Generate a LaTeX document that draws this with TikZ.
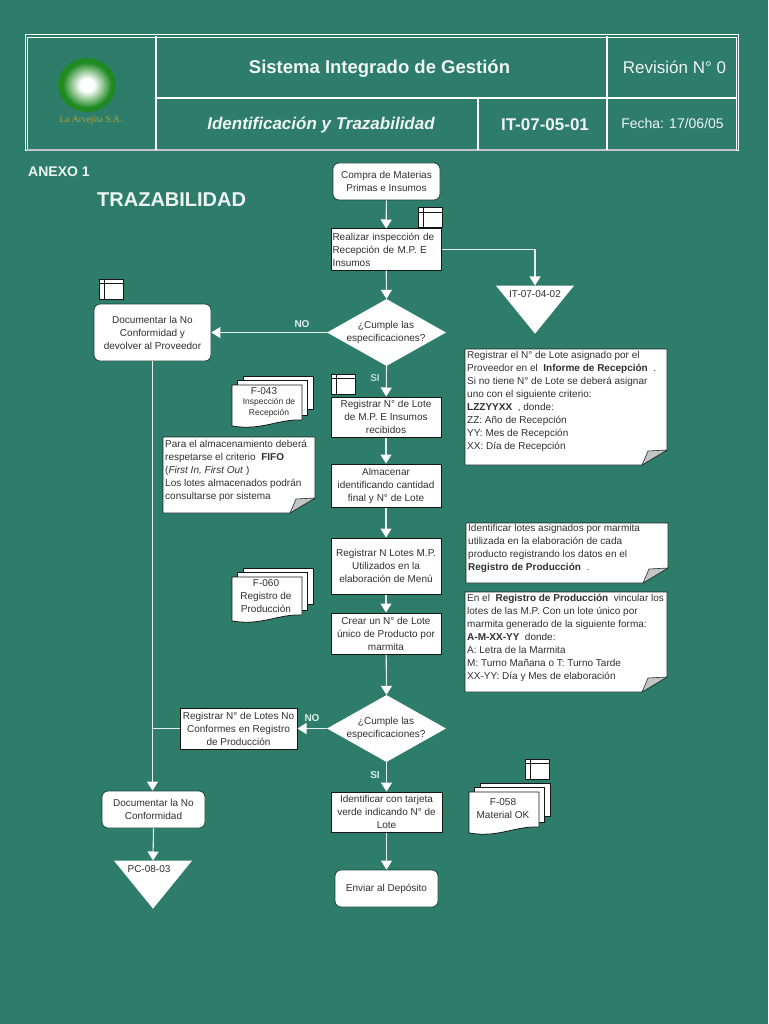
\documentclass[tikz,border=0pt]{standalone}
\usepackage{fontspec}
\setmainfont{Liberation Sans}
\newfontfamily\logofont{Liberation Serif}
\usetikzlibrary{shapes.geometric,arrows.meta,calc}
\definecolor{bgc}{HTML}{2E7D6B}
\definecolor{txt}{HTML}{303030}
\definecolor{edgec}{HTML}{151515}
\definecolor{linkc}{HTML}{E4EFEB}
\definecolor{logog}{HTML}{1F8A22}
\definecolor{logot}{HTML}{B5A13A}
\definecolor{foldc}{HTML}{C4C4C4}
\definecolor{lblno}{HTML}{DCEFE8}
\definecolor{lblsi}{HTML}{B5DDCF}
\pgfdeclareradialshading{logoshade}{\pgfpoint{0bp}{0bp}}{color(0bp)=(white);color(6bp)=(white);color(21bp)=(logog);color(50bp)=(logog)}
\tikzset{
  body/.style={font=\fontsize{10}{13}\selectfont,text=txt},
  procbox/.style={body,draw=edgec,fill=white,line width=1pt,inner sep=0pt,align=center,minimum width=#1},
  termbox/.style={body,draw=bgc!55!black,fill=white,line width=.8pt,rounded corners=6pt,inner sep=0pt,align=center,minimum width=#1},
  decision/.style={diamond,draw=none,fill=white,inner sep=0pt,minimum width=119pt,minimum height=67pt,aspect=1.78},
  mergetri/.style={isosceles triangle,isosceles triangle apex angle=78,isosceles triangle stretches,shape border rotate=270,fill=white,draw=none,inner sep=0pt,minimum width=78pt,minimum height=48pt},
  link/.style={draw=linkc,line width=1.1pt},
  flow/.style={link,-{Triangle[width=11pt,length=9pt,fill=white,color=white]}},
  notetext/.style={body,anchor=north west,inner sep=0pt,align=left},
  headline/.style={white,line width=1.2pt},
  headtext/.style={text=white!92!bgc,inner sep=0pt},
  nolabel/.style={font=\bfseries\fontsize{10}{12}\selectfont,text=lblno,inner sep=0pt},
  silabel/.style={font=\bfseries\fontsize{10}{12}\selectfont,text=lblsi,inner sep=0pt},
}
\newcommand\tabicon[2]{%
  \fill[white,draw=edgec,line width=1pt] (#1,#2) rectangle (#1+24,#2+20);
  \draw[edgec,line width=.7pt] (#1,#2+4) -- (#1+24,#2+4) (#1+5,#2) -- (#1+5,#2+20);
}
\newcommand\stackpage[4]{%
  \fill[white,draw=edgec,line width=.8pt] (#1,#2) rectangle (#1+#3,#2+#4);
}
\newcommand\stackdoc[4]{%
  \stackpage{#1+11}{#2-9}{70}{#4-10}
  \stackpage{#1+5}{#2-5}{70}{#4-8}
  \fill[white,draw=edgec,line width=.8pt] (#1,#2) -- (#1+70,#2) -- (#1+70,#2+#4-8) .. controls (#1+45,#2+#4-9) and (#1+30,#2+#4+3) .. (#1,#2+#4-2) -- cycle;
}
\newcommand\notepaper[4]{%
  \fill[white,draw=edgec!80!bgc,line width=.8pt] (#1,#2) -- (#3,#2) -- (#3,#4-15) -- (#3-25,#4) -- (#1,#4) -- cycle;
  \fill[foldc,draw=edgec!70!bgc,line width=.6pt] (#3-25,#4) -- (#3,#4-15) -- (#3-19,#4-14) -- cycle;
}
\begin{document}
\begin{tikzpicture}[x=1pt,y=-1pt]
\useasboundingbox (0,0) rectangle (768,1024);
\fill[bgc] (0,0) rectangle (768,1024);
% header
\draw[white,line width=1pt] (25,35) rectangle (738,151);
\draw[white,line width=.8pt] (27,37) rectangle (736,149.5);
\draw[foldc,line width=1.2pt] (27,150) -- (736,150);
\draw[headline] (156,36) -- (156,150);
\draw[headline] (607,36) -- (607,150);
\draw[headline] (156,98) -- (736,98);
\draw[headline] (478,98) -- (478,150);
\node[ellipse,minimum width=58pt,minimum height=54pt,inner sep=0pt,shading=logoshade] (logo) at (87,85) {};
\node[font=\logofont\fontsize{9.5}{11}\selectfont,text=logot,inner sep=0pt] (logotext) at (91,120) {La Arvejita S.A.};
\node[headtext,font=\bfseries\fontsize{18.5}{22}\selectfont] (title) at (379.5,68.5) {Sistema Integrado de Gestión};
\node[headtext,font=\fontsize{17}{20}\selectfont] (rev) at (674.5,67.5) {Revisión N° 0};
\node[headtext,font=\bfseries\itshape\fontsize{17}{20}\selectfont] (sub) at (321,125.5) {Identificación y Trazabilidad};
\node[headtext,font=\bfseries\fontsize{17}{20}\selectfont] (code) at (545,124.5) {IT-07-05-01};
\node[headtext,font=\fontsize{14}{17}\selectfont] (fecha) at (672.5,123) {Fecha: 17/06/05};
\node[headtext,font=\bfseries\fontsize{14}{17}\selectfont,anchor=west] (anexo) at (28,171.5) {ANEXO 1};
\node[headtext,font=\bfseries\fontsize{20}{24}\selectfont,anchor=west] (traz) at (97,200) {TRAZABILIDAD};
% icons
\tabicon{418}{208}
\tabicon{99}{279}
\tabicon{331}{374}
\tabicon{525}{759}
% process nodes
\node[termbox=107pt,minimum height=37pt] (compra) at (386.5,181.5) {Compra de Materias\\Primas e Insumos};
\node[procbox=110pt,minimum height=41pt,align=left,text width=107pt] (insp) at (386,249.5) {Realizar inspección de\\Recepción de M.P. E\\Insumos};
\node[decision] (dec1) at (386.5,332.5) {};
\node[body,align=center,inner sep=0pt] (dec1t) at (386,332.5) {¿Cumple las\\especificaciones?};
\node[mergetri,anchor=apex] (it) at (535,334) {};
\node[body,inner sep=0pt] (itt) at (535,294) {IT-07-04-02};
\node[termbox=117pt,minimum height=57pt] (doc1) at (152.5,332.5) {Documentar la No\\Conformidad y\\devolver al Proveedor};
\node[procbox=110pt,minimum height=40pt] (reg) at (386,417) {Registrar N° de Lote\\de M.P. E Insumos\\recibidos};
\node[procbox=110pt,minimum height=43pt] (alm) at (386,485.5) {Almacenar\\identificando cantidad\\final y N° de Lote};
\node[procbox=110pt,minimum height=56pt] (regn) at (386,566) {Registrar N Lotes M.P.\\Utilizados en la\\elaboración de Menú};
\node[procbox=110pt,minimum height=41pt] (crear) at (386,633.5) {Crear un N° de Lote\\único de Producto por\\marmita};
\node[decision] (dec2) at (386.5,728.5) {};
\node[body,align=center,inner sep=0pt] (dec2t) at (386,728.5) {¿Cumple las\\especificaciones?};
\node[procbox=117pt,minimum height=41pt] (rlot) at (238.5,728.5) {Registrar N° de Lotes No\\Conformes en Registro\\de Producción};
\node[procbox=111pt,minimum height=40pt] (ident) at (386.5,812) {Identificar con tarjeta\\verde indicando N° de\\Lote};
\node[termbox=103pt,minimum height=37pt] (env) at (386.5,888.5) {Enviar al Depósito};
\node[termbox=103pt,minimum height=37pt] (doc2) at (153.5,809.5) {Documentar la No\\Conformidad};
\node[mergetri,anchor=apex] (pc) at (153,909) {};
\node[body,inner sep=0pt] (pct) at (149,869.5) {PC-08-03};
% document stacks
\stackdoc{232}{385}{70}{43}
\node[body,inner sep=0pt] (f043) at (264,391) {F-043};
\node[font=\fontsize{8.5}{10.5}\selectfont,text=txt,align=center,inner sep=0pt] (f043t) at (269,408) {Inspección de\\Recepción};
\stackdoc{232}{577}{70}{46}
\node[body,align=center,inner sep=0pt] (f060) at (266,596.5) {F-060\\Registro de\\Producción};
\stackdoc{469}{792}{70}{43}
\node[body,align=center,inner sep=0pt] (f058) at (503,809) {F-058\\Material OK};
% notes
\notepaper{163}{437}{315}{513}
\node[notetext] (nfifo) at (165,440) {Para el almacenamiento deberá\\respetarse el criterio \ \textbf{FIFO}\\(\textit{First In, First Out} )\\Los lotes almacenados podrán\\consultarse por sistema};
\notepaper{465}{349}{667}{465}
\node[notetext] (nreg) at (467,351) {Registrar el N° de Lote asignado por el\\Proveedor en el \ \textbf{Informe de Recepción} \ .\\Si no tiene N° de Lote se deberá asignar\\uno con el siguiente criterio:\\\textbf{LZZYYXX} \ , donde:\\ZZ: Año de Recepción\\YY: Mes de Recepción\\XX: Día de Recepción};
\notepaper{466}{523}{668}{583}
\node[notetext] (nid) at (468,524.5) {Identificar lotes asignados por marmita\\utilizada en la elaboración de cada\\producto registrando los datos en el\\\textbf{Registro de Producción} \ .};
\notepaper{465}{592}{667}{692}
\node[notetext] (nen) at (467,593.5) {En el \ \textbf{Registro de Producción} \ vincular los\\lotes de las M.P. Con un lote único por\\marmita generado de la siguiente forma:\\\textbf{A-M-XX-YY} \ donde:\\A: Letra de la Marmita\\M: Turno Mañana o T: Turno Tarde\\XX-YY: Día y Mes de elaboración};
% labels
\node[nolabel] (no1) at (302,324) {NO};
\node[silabel] (si1) at (375,378.5) {SI};
\node[nolabel] (no2) at (312,718) {NO};
\node[silabel,text=lblno] (si2) at (375,775) {SI};
% connectors
\draw[flow] (compra) -- (insp);
\draw[flow] (insp) -- (dec1.north);
\draw[flow] (insp.east) -| (it.north);
\draw[flow] (dec1.west) -- (doc1.east);
\draw[flow] (dec1.south) -- (reg);
\draw[flow] (reg.south) -- (alm.north);
\draw[flow] (alm) -- (regn);
\draw[flow] (regn) -- (crear);
\draw[flow] (crear) -- (dec2.north);
\draw[flow] (dec2.west) -- (rlot.east);
\draw[flow] (dec2.south) -- (ident);
\draw[flow] (ident) -- (env);
\draw[flow] (doc1.south) -- (doc1.south |- doc2.north);
\draw[link] (rlot.west) -- (rlot.west -| doc1.south);
\draw[flow] (doc2.south) -- (pc.north);
\end{tikzpicture}
\end{document}
